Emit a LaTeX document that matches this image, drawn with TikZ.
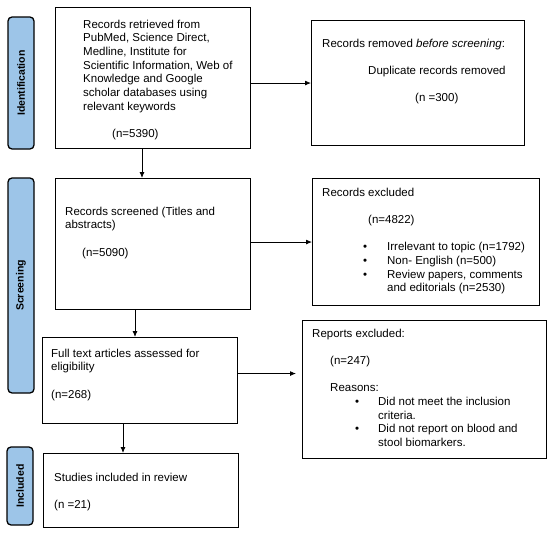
\documentclass[tikz,border=0pt]{standalone}
\usepackage{fontspec}
\setmainfont{Liberation Sans}
\usepackage{tikz}
\usetikzlibrary{arrows.meta}
\definecolor{stageblue}{RGB}{157,197,232}

\begin{document}
\begin{tikzpicture}[x=1pt,y=-1pt,
	box/.style={draw, line width=1.1pt, inner sep=0pt, anchor=north west},
	txt/.style={anchor=north west, inner sep=0pt, align=left, font=\fontsize{11.5}{13.7}\selectfont},
	stage/.style={draw, line width=1.3pt, fill=stageblue, rounded corners=4pt, rotate=90, minimum height=26pt, inner sep=0pt, font=\fontsize{10.5}{12}\selectfont\bfseries},
	arr/.style={-{Latex[length=6pt,width=5pt]}, line width=0.8pt}]
	\useasboundingbox (0,0) rectangle (550,533);

	% stages on the left
	\node[stage, minimum width=132pt] (ident) at (21,83) {Identification};
	\node[stage, minimum width=215pt] (screen) at (21,285.5) {Screening};
	\node[stage, minimum width=78pt] (incl) at (20,486) {Included};

	% boxes
	\node[box, minimum width=195pt, minimum height=141pt] (rec) at (55,7) {};
	\node[box, minimum width=213pt, minimum height=125pt] (rem) at (311,20) {};
	\node[box, minimum width=195pt, minimum height=131pt] (scr) at (55,178) {};
	\node[box, minimum width=227pt, minimum height=127pt] (exc) at (312,178) {};
	\node[box, minimum width=195pt, minimum height=86pt] (full) at (42,337) {};
	\node[box, minimum width=244pt, minimum height=138pt] (rep) at (302,320) {};
	\node[box, minimum width=195pt, minimum height=74pt] (inc) at (43,453) {};

	% texts
	\node[txt] (rectxt) at (83,19.5) {Records retrieved from\\
		PubMed, Science Direct,\\
		Medline, Institute for\\
		Scientific Information, Web of\\
		Knowledge and Google\\
		scholar databases using\\
		relevant keywords\\[13.7pt]
		\hspace*{29pt}(n=5390)};
	\node[txt] (remtxt) at (322,38.5) {Records removed \textit{before screening}:\\[13.7pt]
		\hspace*{46pt}Duplicate records removed\\[13.7pt]
		\hspace*{93pt}(n =300)};
	\node[txt] (scrtxt) at (65,206.5) {Records screened (Titles and\\
		abstracts)\\[13.7pt]
		\hspace*{17pt}(n=5090)};
	\node[txt] (exctxt) at (322,187.5) {Records excluded\\[13.7pt]
		\hspace*{46pt}(n=4822)\\[13.7pt]
		\hspace*{41pt}\makebox[24pt][l]{\textbullet}Irrelevant to topic (n=1792)\\
		\hspace*{41pt}\makebox[24pt][l]{\textbullet}Non- English (n=500)\\
		\hspace*{41pt}\makebox[24pt][l]{\textbullet}Review papers, comments\\
		\hspace*{65pt}and editorials (n=2530)};
	\node[txt] (fulltxt) at (51,348.5) {Full text articles assessed for\\
		eligibility\\[13.7pt]
		(n=268)};
	\node[txt] (reptxt) at (312,328.5) {Reports excluded:\\[13.7pt]
		\hspace*{18pt}(n=247)\\[13.7pt]
		\hspace*{18pt}Reasons:\\
		\hspace*{43pt}\makebox[23pt][l]{\textbullet}Did not meet the inclusion\\
		\hspace*{66pt}criteria.\\
		\hspace*{43pt}\makebox[23pt][l]{\textbullet}Did not report on blood and\\
		\hspace*{66pt}stool biomarkers.};
	\node[txt] (inctxt) at (54,472.5) {Studies included in review\\[13.7pt]
		(n =21)};

	% arrows
	\path[arr]
	(rec.east |- rem.west) edge (rem.west)
	([xshift=87pt]rec.south west) edge ([xshift=87pt]scr.north west)
	(scr.east |- exc.west) edge (exc.west)
	([xshift=80pt]scr.south west) edge ([xshift=80pt]scr.south west |- full.north)
	([yshift=7pt]full.east) edge[shorten >=6pt] ([yshift=7pt]full.east -| rep.west)
	([xshift=81pt]full.south west) edge ([xshift=81pt]full.south west |- inc.north)
	;
\end{tikzpicture}
\end{document}
